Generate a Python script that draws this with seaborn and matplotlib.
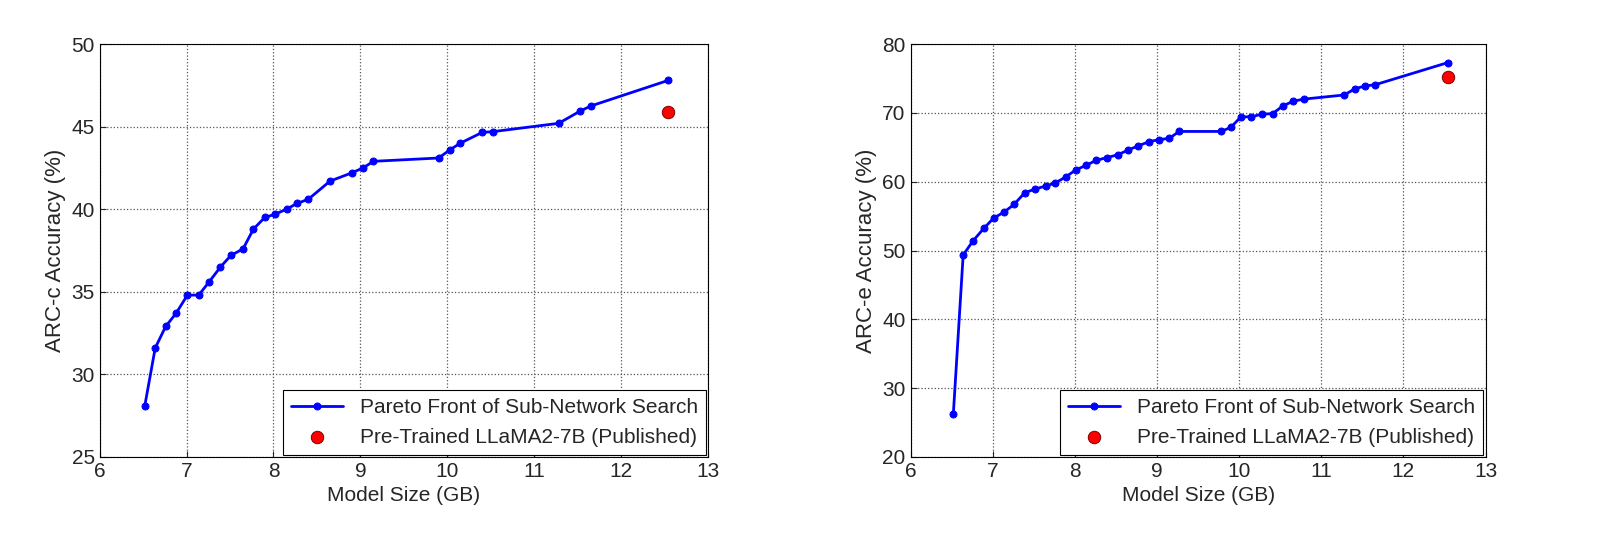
import matplotlib
matplotlib.use("Agg")
import matplotlib.pyplot as plt
import seaborn as sns
import pandas as pd

arc_c_size = [6.52, 6.64, 6.76, 6.88, 7.01, 7.14, 7.26, 7.39, 7.51, 7.65, 7.77, 7.90, 8.02, 8.15,
              8.27, 8.40, 8.65, 8.90, 9.03, 9.15, 9.90, 10.03, 10.15, 10.40, 10.53, 11.28, 11.53,
              11.65, 12.54]
arc_c_acc = [28.1, 31.6, 32.9, 33.7, 34.8, 34.8, 35.6, 36.5, 37.2, 37.6, 38.8, 39.5, 39.7, 40.0,
             40.35, 40.6, 41.7, 42.2, 42.5, 42.9, 43.1, 43.6, 44.0, 44.65, 44.7, 45.2, 45.95,
             46.25, 47.8]
arc_e_size = [6.52, 6.64, 6.76, 6.89, 7.01, 7.14, 7.26, 7.39, 7.51, 7.65, 7.76, 7.89, 8.01, 8.14,
              8.26, 8.39, 8.52, 8.65, 8.77, 8.90, 9.02, 9.15, 9.27, 9.78, 9.90, 10.02, 10.15,
              10.28, 10.41, 10.53, 10.66, 10.79, 11.28, 11.41, 11.53, 11.66, 12.54]
arc_e_acc = [26.2, 49.35, 51.4, 53.2, 54.7, 55.6, 56.7, 58.4, 58.9, 59.4, 59.8, 60.7, 61.7, 62.4,
             63.1, 63.5, 63.9, 64.6, 65.2, 65.8, 66.1, 66.3, 67.3, 67.3, 67.9, 69.4, 69.45,
             69.8, 69.9, 71.0, 71.7, 72.0, 72.6, 73.5, 73.9, 74.1, 77.3]
base_size = 12.54
base_c = 45.9
base_e = 75.2

sns.set_style("white")
plt.rcParams["font.family"] = ["Liberation Sans", "DejaVu Sans"]

fig = plt.figure(figsize=(16.06, 5.37), dpi=100)
ax1 = fig.add_axes([0.062, 0.149, 0.379, 0.769])
ax2 = fig.add_axes([0.567, 0.149, 0.358, 0.769])

panels = [
    (ax1, arc_c_size, arc_c_acc, base_c, "ARC-c Accuracy (%)", (25, 50), range(25, 51, 5)),
    (ax2, arc_e_size, arc_e_acc, base_e, "ARC-e Accuracy (%)", (20, 80), range(20, 81, 10)),
]
for ax, xs, ys, b, ylab, ylim, yt in panels:
    df = pd.DataFrame({"size": xs, "acc": ys})
    sns.lineplot(data=df, x="size", y="acc", ax=ax, color="#0000ff", lw=2, marker="o",
                 markersize=5, markeredgecolor="#0000ff", sort=False,
                 label="Pareto Front of Sub-Network Search")
    sns.scatterplot(x=[base_size], y=[b], ax=ax, color="red", edgecolor="#800000", s=80,
                    zorder=5, label="Pre-Trained LLaMA2-7B (Published)")
    ax.set_xlim(6, 13)
    ax.set_ylim(*ylim)
    ax.set_xticks(range(6, 14))
    ax.set_yticks(list(yt))
    ax.grid(True, linestyle=":", color="#555555", lw=0.9)
    ax.tick_params(labelsize=15, direction="in", length=4, left=True, bottom=True)
    for s in ax.spines.values():
        s.set_color("black")
    ax.set_xlabel("Model Size (GB)", fontsize=15)
    ax.set_ylabel(ylab, fontsize=16)
    leg = ax.legend(loc="lower right", fontsize=15, fancybox=False, framealpha=1,
                    edgecolor="black", borderaxespad=0.1, handlelength=2.5)
    leg.get_frame().set_linewidth(0.8)

fig.savefig("out.png", dpi=100)
